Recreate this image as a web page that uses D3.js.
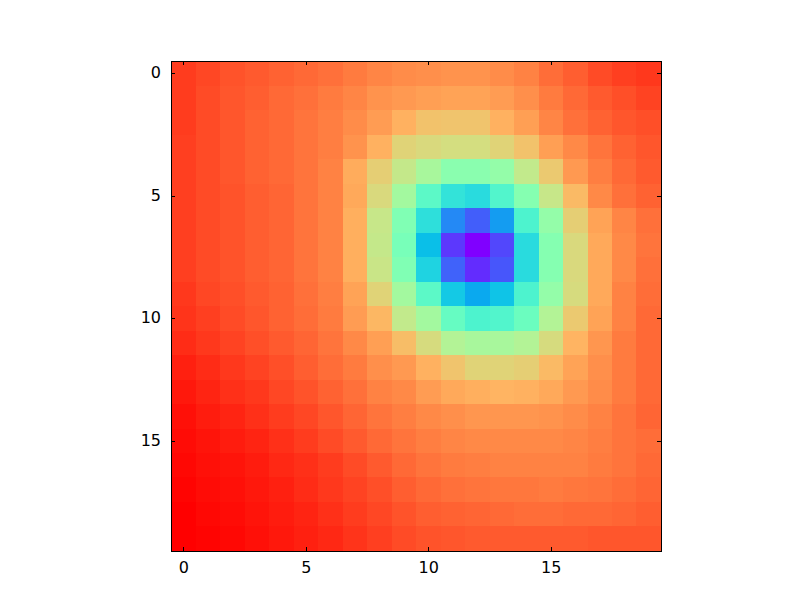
<!DOCTYPE html>
<html>
<head>
<meta charset="utf-8">
<script src="https://cdn.jsdelivr.net/npm/d3@7"></script>
<style>
html,body{margin:0;padding:0;background:#fff;}
svg{display:block;}
text{font-family:"DejaVu Sans",sans-serif;font-size:16px;fill:#000;}
</style>
</head>
<body>
<svg id="chart" width="812" height="612"></svg>
<script>
const columns = d3.range(20);
const rowsIdx = d3.range(20);
const tickValues = [0, 5, 10, 15];
const values = [
[.925,.91,.895,.885,.875,.865,.855,.84,.825,.815,.81,.805,.805,.815,.83,.86,.88,.905,.92,.93],
[.925,.905,.89,.88,.865,.855,.84,.825,.805,.795,.785,.78,.78,.79,.81,.84,.865,.885,.90,.915],
[.925,.905,.89,.875,.865,.85,.835,.815,.79,.755,.725,.72,.72,.755,.785,.825,.855,.875,.89,.90],
[.92,.905,.89,.875,.865,.85,.835,.805,.755,.69,.675,.665,.665,.69,.725,.785,.82,.85,.875,.89],
[.92,.905,.89,.875,.865,.85,.83,.765,.70,.635,.58,.52,.52,.54,.63,.71,.795,.835,.865,.885],
[.92,.905,.895,.88,.87,.85,.83,.77,.675,.57,.43,.35,.33,.41,.51,.64,.74,.82,.855,.875],
[.92,.905,.895,.88,.87,.85,.83,.76,.64,.50,.34,.18,.12,.21,.40,.54,.70,.78,.825,.855],
[.92,.905,.895,.88,.87,.85,.83,.76,.635,.485,.27,.07,.00,.09,.33,.51,.675,.77,.82,.85],
[.92,.905,.895,.88,.87,.85,.83,.76,.645,.50,.31,.125,.055,.11,.33,.51,.675,.77,.82,.855],
[.93,.91,.90,.885,.875,.855,.835,.78,.69,.57,.43,.29,.23,.28,.40,.54,.67,.77,.83,.86],
[.935,.92,.905,.89,.875,.86,.84,.79,.745,.63,.57,.45,.40,.41,.46,.60,.71,.78,.83,.865],
[.945,.93,.915,.90,.885,.87,.85,.82,.785,.735,.67,.60,.58,.58,.60,.67,.75,.80,.84,.865],
[.96,.945,.93,.915,.90,.88,.86,.84,.81,.795,.755,.72,.69,.69,.70,.74,.78,.81,.84,.865],
[.97,.955,.94,.93,.91,.895,.875,.855,.83,.82,.79,.77,.76,.75,.755,.77,.795,.815,.84,.865],
[.98,.965,.955,.94,.925,.91,.89,.87,.85,.835,.82,.81,.80,.80,.80,.805,.815,.83,.85,.87],
[.985,.975,.965,.955,.94,.925,.905,.885,.865,.85,.835,.825,.82,.82,.82,.82,.825,.835,.85,.86],
[.99,.98,.975,.965,.95,.94,.925,.905,.885,.865,.85,.84,.835,.83,.83,.83,.83,.84,.85,.865],
[.995,.985,.98,.97,.96,.945,.93,.915,.90,.88,.865,.855,.85,.845,.845,.84,.845,.85,.86,.87],
[1.0,.99,.985,.975,.965,.955,.94,.925,.91,.895,.88,.875,.87,.865,.86,.86,.865,.865,.87,.88],
[1.0,.995,.99,.98,.97,.96,.95,.935,.92,.905,.895,.89,.885,.885,.885,.885,.885,.89,.89,.89]
];

const plotLeft = 171, plotRight = 661, plotTop = 61, plotBottom = 551;

// matplotlib "rainbow" colormap
function rainbow(t) {
  const r = Math.min(1, Math.abs(2 * t - 0.5));
  const g = Math.sin(Math.PI * t);
  const b = Math.cos(Math.PI * t / 2);
  return d3.rgb(r * 255, g * 255, b * 255).formatRgb();
}
const color = d3.scaleSequential(rainbow).domain([0, 1]);

// data-space scales: cells are centred on integers
const x = d3.scaleLinear().domain([-0.5, 19.5]).range([plotLeft, plotRight]);
const y = d3.scaleLinear().domain([-0.5, 19.5]).range([plotTop, plotBottom]);

const svg = d3.select("#chart");

const cells = rowsIdx.flatMap(r => columns.map(c => ({r, c, v: values[r][c]})));
svg.append("g").attr("shape-rendering", "crispEdges")
  .selectAll("rect").data(cells).join("rect")
  .attr("x", d => Math.round(x(d.c - 0.5)))
  .attr("y", d => Math.round(y(d.r - 0.5)))
  .attr("width", d => Math.round(x(d.c + 0.5)) - Math.round(x(d.c - 0.5)))
  .attr("height", d => Math.round(y(d.r + 0.5)) - Math.round(y(d.r - 0.5)))
  .attr("fill", d => color(d.v));

function styleAxis(g) {
  g.selectAll(".domain").remove();
  g.selectAll(".tick line").attr("stroke", "#000").attr("stroke-width", 1)
    .attr("shape-rendering", "crispEdges");
  g.selectAll("text").style("font-family", '"DejaVu Sans",sans-serif').style("font-size", "16px");
}

const fmt = d3.format("d");
svg.append("g").attr("transform", `translate(0,${plotBottom})`)
  .call(d3.axisBottom(x).tickValues(tickValues).tickFormat(fmt).tickSizeInner(-4).tickSizeOuter(0).tickPadding(11))
  .call(styleAxis);
svg.append("g").attr("transform", `translate(0,${plotTop})`)
  .call(d3.axisTop(x).tickValues(tickValues).tickFormat("").tickSizeInner(-4).tickSizeOuter(0))
  .call(styleAxis);
svg.append("g").attr("transform", `translate(${plotLeft},0)`)
  .call(d3.axisLeft(y).tickValues(tickValues).tickFormat(fmt).tickSizeInner(-4).tickSizeOuter(0).tickPadding(10))
  .call(styleAxis)
  .call(g => g.selectAll("text").attr("dy", "0.27em"));
svg.append("g").attr("transform", `translate(${plotRight},0)`)
  .call(d3.axisRight(y).tickValues(tickValues).tickFormat("").tickSizeInner(-4).tickSizeOuter(0))
  .call(styleAxis);

svg.append("rect")
  .attr("x", plotLeft + 0.5).attr("y", plotTop + 0.5)
  .attr("width", plotRight - plotLeft).attr("height", plotBottom - plotTop)
  .attr("fill", "none").attr("stroke", "#000").attr("stroke-width", 1);
</script>
</body>
</html>
